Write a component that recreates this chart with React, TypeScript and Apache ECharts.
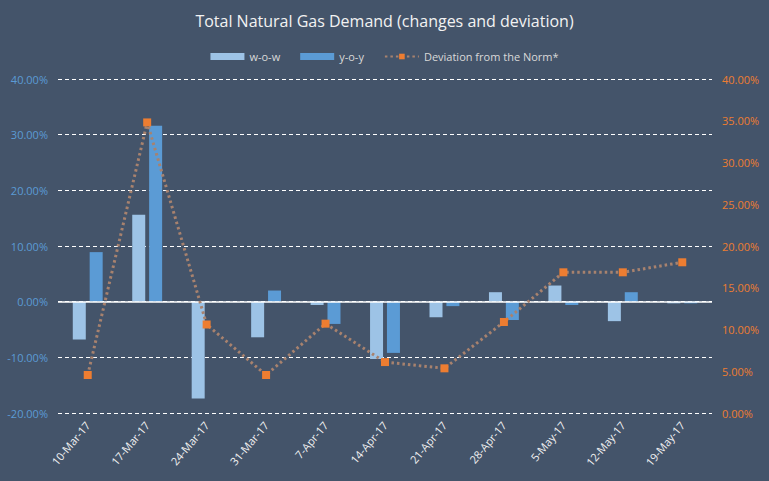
import React, { useEffect, useRef } from "react";
import * as echarts from "echarts";

const categories = [
  "10-Mar-17", "17-Mar-17", "24-Mar-17", "31-Mar-17", "7-Apr-17", "14-Apr-17",
  "21-Apr-17", "28-Apr-17", "5-May-17", "12-May-17", "19-May-17",
];
const wow = [-6.8, 15.6, -17.4, -6.4, -0.6, -10.3, -2.8, 1.7, 2.9, -3.5, -0.3];
const yoy = [8.9, 31.6, 0, 2.0, -4.0, -9.2, -0.8, -3.3, -0.6, 1.7, -0.3];
const deviation = [4.55, 34.8, 10.6, 4.55, 10.7, 6.1, 5.35, 10.9, 16.85, 16.85, 18.05];

const FONT = "'Open Sans', 'Noto Sans', sans-serif";
const pct = (v: number) => v.toFixed(2) + "%";

const App: React.FC = () => {
  const chartRef = useRef<HTMLDivElement>(null);

  useEffect(() => {
    document.body.style.margin = "0";
    if (!chartRef.current) return;
    const myChart = echarts.init(chartRef.current, undefined, { renderer: "svg" });

    const option: echarts.EChartsOption = {
      animation: false,
      backgroundColor: "#44546A",
      textStyle: { fontFamily: FONT },
      title: {
        text: "Total Natural Gas Demand (changes and deviation)",
        left: "center",
        top: 8,
        textStyle: { color: "#F2F2F2", fontSize: 16, fontWeight: "normal", fontFamily: FONT },
      },
      legend: {
        top: 46,
        left: "center",
        itemGap: 20,
        itemWidth: 34,
        itemHeight: 7,
        textStyle: { color: "#D9D9D9", fontSize: 11, fontFamily: FONT },
        data: [
          { name: "w-o-w", icon: "rect" },
          { name: "y-o-y", icon: "rect" },
          { name: "Deviation from the Norm*" },
        ],
      },
      grid: { left: 58, right: 57, top: 79, bottom: 68 },
      xAxis: {
        type: "category",
        data: categories,
        axisLine: { show: false },
        axisTick: { show: false },
        axisLabel: { color: "#F2F2F2", fontSize: 11, rotate: 50, margin: 10, fontFamily: FONT },
      },
      yAxis: [
        {
          type: "value",
          min: -20,
          max: 40,
          interval: 10,
          axisLine: { show: false },
          axisTick: { show: false },
          axisLabel: { color: "#5B9BD5", fontSize: 11, formatter: pct, margin: 10, fontFamily: FONT },
          splitLine: { lineStyle: { color: "#FFFFFF", type: [4, 3], width: 1 } },
        },
        {
          type: "value",
          min: 0,
          max: 40,
          interval: 5,
          axisLine: { show: false },
          axisTick: { show: false },
          axisLabel: { color: "#ED7D31", fontSize: 11, formatter: pct, margin: 10, fontFamily: FONT },
          splitLine: { show: false },
        },
      ],
      series: [
        {
          name: "w-o-w",
          type: "bar",
          data: wow,
          barWidth: 13,
          barGap: "30%",
          itemStyle: { color: "#9DC3E6" },
          markLine: {
            silent: true,
            symbol: "none",
            label: { show: false },
            lineStyle: { color: "#FFFFFF", type: "solid", width: 1.5 },
            data: [{ yAxis: 0 }],
          },
        },
        {
          name: "y-o-y",
          type: "bar",
          data: yoy,
          barWidth: 13,
          itemStyle: { color: "#5B9BD5" },
        },
        {
          name: "Deviation from the Norm*",
          type: "line",
          yAxisIndex: 1,
          data: deviation,
          symbol: "rect",
          symbolSize: 8,
          itemStyle: { color: "#ED7D31" },
          lineStyle: { color: "#A8826E", width: 3, type: [2.5, 3] },
          z: 5,
        },
      ],
    };

    myChart.setOption(option);
    return () => {
      myChart.dispose();
    };
  }, []);

  return <div ref={chartRef} style={{ width: "769px", height: "481px" }} />;
};

export default App;
